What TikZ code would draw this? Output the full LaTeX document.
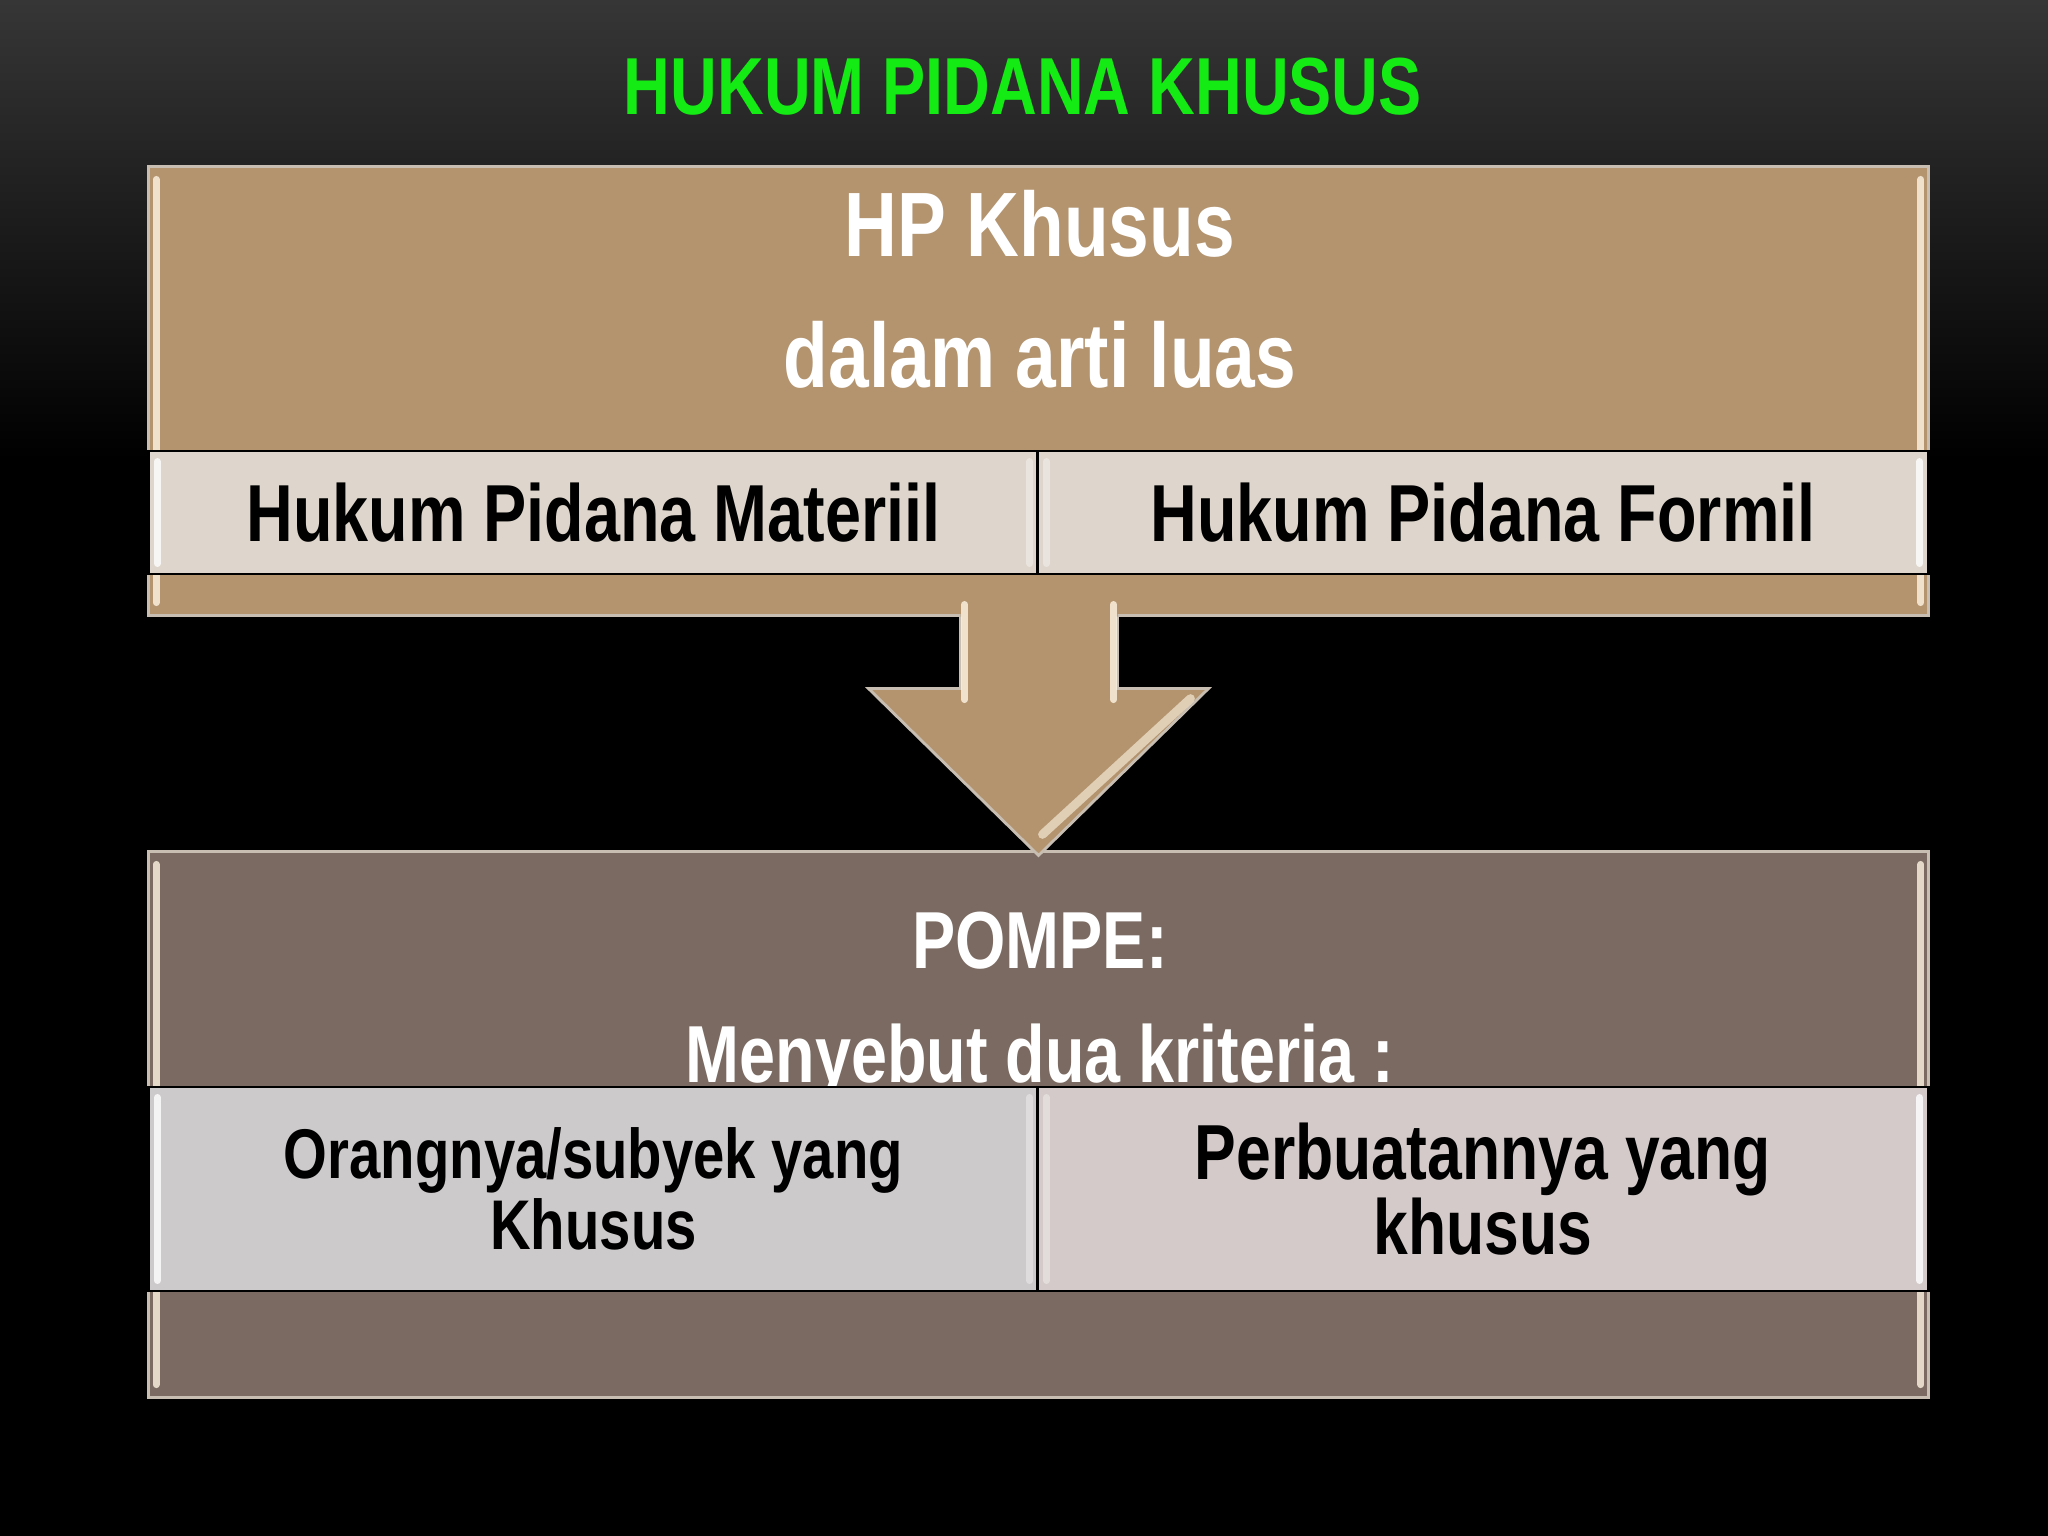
\documentclass[tikz,border=0pt]{standalone}
\usepackage{fontspec}
\usepackage{tikz}
\usetikzlibrary{calc}
\newfontfamily\narrowfont{Liberation Sans}[FakeStretch=0.8]
\definecolor{bgtop}{RGB}{54,54,54}
\definecolor{hpgreen}{RGB}{20,235,20}
\definecolor{hptan}{RGB}{179,148,111}
\definecolor{tancell}{RGB}{222,214,204}
\definecolor{taupe}{RGB}{123,106,97}
\definecolor{greycell}{RGB}{205,202,203}
\definecolor{pinkcell}{RGB}{211,202,201}
\definecolor{paneledge}{RGB}{200,190,178}
\definecolor{glint}{RGB}{255,245,228}
\newcommand{\NF}[2]{\narrowfont\bfseries\fontsize{#1}{#2}\selectfont}

\begin{document}
\begin{tikzpicture}[x=0.01cm, y=-0.01cm,
  panel/.style={rectangle, inner sep=0pt, draw=paneledge, line width=0.8pt},
  cell/.style={rectangle, inner sep=0pt, draw=black, line width=0.8pt, align=center},
  hilite/.style={draw=glint, line width=2pt, line cap=round, opacity=0.8}]
  \useasboundingbox (0,0) rectangle (2048,1536);
  \fill [black] (0,0) rectangle (2048,1536);
  \shade [top color=bgtop, bottom color=black] (0,0) rectangle (2048,460);

  \node (TTL) [anchor=base, text=hpgreen, font={\NF{23}{28}}] at (1023,114) {HUKUM PIDANA KHUSUS};

  \node (HPK) [panel, fill=hptan, minimum width=17.79cm, minimum height=4.48cm] at (1038.5,391) {};
  \draw [hilite] ($(HPK.north west)+(9,14)$) -- ($(HPK.south west)+(9,-14)$);
  \draw [hilite] ($(HPK.north east)+(-9,14)$) -- ($(HPK.south east)+(-9,-14)$);
  \node (HP1) [anchor=base, text=white, font={\NF{26}{31}}] at (1040,256) {HP Khusus};
  \node (HP2) [anchor=base, text=white, font={\NF{26}{31}}] at (1040,387) {dalam arti luas};

  \node (MAT) [cell, fill=tancell, minimum width=8.89cm, minimum height=1.23cm, font={\NF{23}{28}}] at (593.5,512.5) {Hukum Pidana Materiil};
  \node (FOR) [cell, fill=tancell, minimum width=8.90cm, minimum height=1.23cm, font={\NF{23}{28}}] at (1483,512.5) {Hukum Pidana Formil};

  \node (PMP) [panel, fill=taupe, minimum width=17.79cm, minimum height=5.45cm] at (1038.5,1124.5) {};
  \draw [hilite] ($(PMP.north west)+(9,14)$) -- ($(PMP.south west)+(9,-14)$);
  \draw [hilite] ($(PMP.north east)+(-9,14)$) -- ($(PMP.south east)+(-9,-14)$);
  \node (PO1) [anchor=base, text=white, font={\NF{23}{27}}] at (1040,968) {POMPE:};
  \node (PO2) [anchor=base, text=white, font={\NF{23}{27}}] at (1040,1082) {Menyebut dua kriteria :};

  \node (ORG) [cell, fill=greycell, minimum width=8.89cm, minimum height=2.04cm, font={\NF{20}{20.2}}] at (593.5,1189) {Orangnya/subyek yang\\Khusus};
  \node (PER) [cell, fill=pinkcell, minimum width=8.90cm, minimum height=2.04cm, font={\NF{22.2}{21.5}}] at (1483,1189) {Perbuatannya yang\\khusus};

  \foreach \c in {MAT,ORG} {
    \draw [hilite, draw=white] ($(\c.north west)+(10,12)$) -- ($(\c.south west)+(10,-12)$);
    \draw [hilite, draw=white, opacity=0.35] ($(\c.north east)+(-10,12)$) -- ($(\c.south east)+(-10,-12)$);
  }
  \foreach \c in {FOR,PER} {
    \draw [hilite, draw=white, opacity=0.35] ($(\c.north west)+(10,12)$) -- ($(\c.south west)+(10,-12)$);
    \draw [hilite, draw=white] ($(\c.north east)+(-10,12)$) -- ($(\c.south east)+(-10,-12)$);
  }

  \fill [hptan] ($(HPK.south)+(-78,-12)$) -- ($(HPK.south)+(79,-12)$) -- ($(HPK.south)+(79,72)$)
    -- ($(HPK.south)+(170,72)$) -- ($(PMP.north)+(0,5)$) -- ($(HPK.south)+(-170,72)$)
    -- ($(HPK.south)+(-78,72)$) -- cycle;
  \draw [paneledge, line width=0.8pt, line join=miter] ($(HPK.south)+(-78,0)$) -- ($(HPK.south)+(-78,72)$)
    -- ($(HPK.south)+(-170,72)$) -- ($(PMP.north)+(0,5)$) -- ($(HPK.south)+(170,72)$)
    -- ($(HPK.south)+(79,72)$) -- ($(HPK.south)+(79,0)$);
  \draw [hilite] ($(HPK.south)+(-74,-12)$) -- ($(HPK.south)+(-74,83)$);
  \draw [hilite] ($(HPK.south)+(75,-12)$) -- ($(HPK.south)+(75,83)$);
  \draw [hilite, line width=2.5pt, opacity=0.6] ($(HPK.south)+(152,82)$) -- ($(PMP.north)+(4,-16)$);
\end{tikzpicture}
\end{document}
